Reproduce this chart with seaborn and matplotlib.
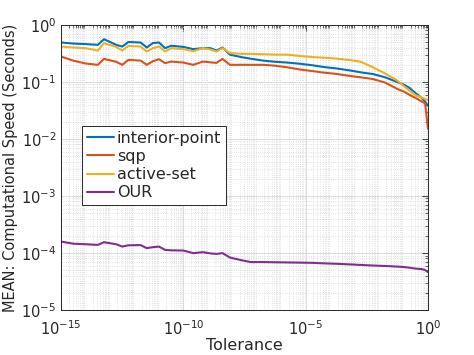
import numpy as np
import pandas as pd
import seaborn as sns
import matplotlib.pyplot as plt
from matplotlib.ticker import LogLocator, NullFormatter

# tolerance exponents (x = 10**exp)
tol_exp = [-15, -14.5, -14, -13.5, -13.25, -12.75, -12.5, -12.25, -11.75, -11.5,
           -11.25, -11, -10.75, -10.5, -10, -9.6, -9.2, -8.9, -8.65, -8.4,
           -8.1, -7.6, -7.25, -6.75, -6.25, -5.75, -5.25, -4.75, -4.25, -3.75,
           -3.25, -2.75, -2.25, -1.75, -1.25, -1, -0.75, -0.5, -0.25, -0.12, 0]

interior_point = [0.49, 0.47, 0.46, 0.446, 0.56, 0.446, 0.416, 0.50, 0.49, 0.40,
                  0.48, 0.49, 0.39, 0.43, 0.41, 0.375, 0.39, 0.39, 0.354, 0.40,
                  0.30, 0.27, 0.255, 0.236, 0.225, 0.218, 0.208, 0.196, 0.182, 0.172,
                  0.16, 0.147, 0.137, 0.12, 0.099, 0.09, 0.078, 0.063, 0.052, 0.045, 0.038]

sqp = [0.278, 0.235, 0.21, 0.199, 0.253, 0.225, 0.199, 0.243, 0.236, 0.199,
       0.23, 0.25, 0.213, 0.227, 0.218, 0.199, 0.227, 0.22, 0.215, 0.253,
       0.199, 0.199, 0.199, 0.199, 0.192, 0.18, 0.165, 0.155, 0.145, 0.138,
       0.128, 0.12, 0.112, 0.097, 0.075, 0.068, 0.059, 0.052, 0.045, 0.042, 0.015]

active_set = [0.416, 0.40, 0.39, 0.354, 0.477, 0.41, 0.354, 0.428, 0.416, 0.34,
              0.39, 0.416, 0.34, 0.39, 0.375, 0.345, 0.39, 0.37, 0.34, 0.39,
              0.32, 0.31, 0.31, 0.305, 0.30, 0.30, 0.285, 0.273, 0.265, 0.256,
              0.243, 0.225, 0.18, 0.14, 0.105, 0.085, 0.07, 0.058, 0.053, 0.05, 0.048]

our = [1.58e-4, 1.45e-4, 1.42e-4, 1.38e-4, 1.54e-4, 1.42e-4, 1.29e-4, 1.36e-4, 1.37e-4, 1.21e-4,
       1.26e-4, 1.29e-4, 1.13e-4, 1.11e-4, 1.10e-4, 9.9e-5, 1.03e-4, 9.8e-5, 9.6e-5, 9.9e-5,
       8.3e-5, 7.4e-5, 6.9e-5, 6.9e-5, 6.85e-5, 6.8e-5, 6.75e-5, 6.7e-5, 6.55e-5, 6.45e-5,
       6.3e-5, 6.15e-5, 6.0e-5, 5.9e-5, 5.75e-5, 5.65e-5, 5.5e-5, 5.3e-5, 5.2e-5, 5.0e-5, 4.6e-5]

methods = ['interior-point', 'sqp', 'active-set', 'OUR']
colors = ['#0072BD', '#D95319', '#EDB120', '#7E2F8E']

tolerance = 10.0 ** np.array(tol_exp)
frames = []
for name, vals in zip(methods, [interior_point, sqp, active_set, our]):
    frames.append(pd.DataFrame({'Tolerance': tolerance, 'Speed': vals, 'Method': name}))
df = pd.concat(frames, ignore_index=True)

sns.set_theme(style='white')
plt.rcParams['font.family'] = ['DejaVu Sans']

fig = plt.figure(figsize=(4.74, 3.55), dpi=100)
ax = fig.add_axes([0.129, 0.127, 0.774, 0.803])

sns.lineplot(data=df, x='Tolerance', y='Speed', hue='Method', hue_order=methods,
             palette=colors, linewidth=1.5, ax=ax, legend=False)

ax.set_xscale('log')
ax.set_yscale('log')
ax.set_xlim(1e-15, 1)
ax.set_ylim(1e-5, 1)

ax.set_xticks([1e-15, 1e-10, 1e-5, 1])
ax.xaxis.set_minor_locator(LogLocator(base=10, subs=np.arange(2, 10), numticks=100))
ax.xaxis.set_minor_formatter(NullFormatter())
ax.yaxis.set_major_locator(LogLocator(base=10, numticks=10))
ax.yaxis.set_minor_locator(LogLocator(base=10, subs=np.arange(2, 10), numticks=100))
ax.yaxis.set_minor_formatter(NullFormatter())

ax.grid(True, which='major', color='#dcdcdc', linewidth=0.7)
ax.grid(True, which='minor', color='#d8d8d8', linestyle=':', linewidth=0.6)
ax.tick_params(which='both', direction='in', top=True, right=True, color='#262626')
ax.tick_params(which='major', length=4, width=0.6, labelsize=10.5, colors='#262626')
ax.tick_params(axis='x', which='major', pad=7)
ax.tick_params(which='minor', length=2, width=0.5)
for s in ax.spines.values():
    s.set_color('#262626')
    s.set_linewidth(0.7)

ax.set_xlabel('Tolerance', fontsize=11.5, color='#262626', labelpad=0)
ax.set_ylabel('MEAN: Computational Speed (Seconds)', fontsize=10.5, color='#262626', labelpad=2)

handles = [plt.Line2D([], [], color=c, linewidth=1.5) for c in colors]
leg = ax.legend(handles, methods, loc='upper left', bbox_to_anchor=(0.058, 0.645),
                fontsize=11.5, frameon=True, fancybox=False, framealpha=1,
                edgecolor='#262626', handlelength=1.7, handletextpad=0.15,
                labelspacing=0.2, borderpad=0.3, borderaxespad=0)
leg.get_frame().set_linewidth(0.7)

fig.savefig('out.png', dpi=100)
